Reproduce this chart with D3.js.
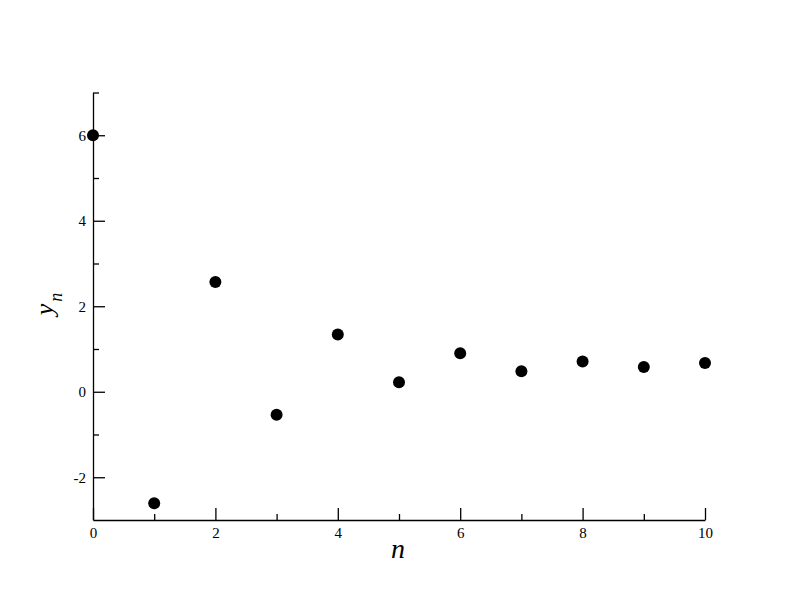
<!DOCTYPE html>
<html>
<head>
<meta charset="utf-8">
<script src="https://cdn.jsdelivr.net/npm/d3@7"></script>
<style>
  body { margin: 0; background: #fff; }
</style>
</head>
<body>
<div id="chart"></div>
<script>
// data
const nValues = [0, 1, 2, 3, 4, 5, 6, 7, 8, 9, 10];
const yValues = [6.0, -2.61, 2.57, -0.54, 1.34, 0.22, 0.90, 0.48, 0.71, 0.58, 0.67];
const xMajorTicks = [0, 2, 4, 6, 8, 10];
const xMinorTicks = [1, 3, 5, 7, 9];
const yMajorTicks = [-2, 0, 2, 4, 6];
const yMinorTicks = [-1, 1, 3, 5, 7];

const width = 792;
const height = 612;
const serif = "'Liberation Serif', 'Times New Roman', Times, serif";

const svg = d3.select("#chart")
  .append("svg")
  .attr("width", width)
  .attr("height", height);

const x = d3.scaleLinear().domain([0, 10]).range([93, 705]);
const y = d3.scaleLinear().domain([-3, 7]).range([520, 92.5]);

// etichette con trattino semplice, come nell'originale
const plain = d => String(d);

// x axis (ticks pointing inward)
svg.append("g")
  .attr("transform", `translate(0, ${y(-3)})`)
  .call(d3.axisBottom(x).tickValues(xMajorTicks).tickSize(-12).tickSizeOuter(0).tickPadding(7).tickFormat(plain));

svg.append("g")
  .attr("transform", `translate(0, ${y(-3)})`)
  .call(d3.axisBottom(x).tickValues(xMinorTicks).tickSize(-6).tickSizeOuter(0).tickFormat(""))
  .call(g => g.select(".domain").remove());

// y axis
svg.append("g")
  .attr("transform", `translate(${x(0)}, 0)`)
  .call(d3.axisLeft(y).tickValues(yMajorTicks).tickSize(-12).tickSizeOuter(0).tickPadding(7).tickFormat(plain));

svg.append("g")
  .attr("transform", `translate(${x(0)}, 0)`)
  .call(d3.axisLeft(y).tickValues(yMinorTicks).tickSize(-6).tickSizeOuter(0).tickFormat(""))
  .call(g => g.select(".domain").remove());

svg.selectAll(".domain, .tick line").attr("stroke", "#000").attr("stroke-width", 1.3);
svg.selectAll(".tick text")
  .attr("font-family", serif)
  .attr("font-size", "15px")
  .attr("fill", "#000");

// points
svg.append("g")
  .selectAll("circle")
  .data(nValues)
  .join("circle")
  .attr("cx", (d) => x(d))
  .attr("cy", (d, i) => y(yValues[i]))
  .attr("r", 6)
  .attr("fill", "#000");

// axis titles
svg.append("text")
  .attr("x", 398)
  .attr("y", 558)
  .attr("text-anchor", "middle")
  .attr("font-family", serif)
  .attr("font-size", "28px")
  .attr("font-style", "italic")
  .text("n");

const yTitle = svg.append("text")
  .attr("transform", "translate(53, 304) rotate(-90)")
  .attr("text-anchor", "middle")
  .attr("font-family", serif)
  .attr("font-size", "26px")
  .attr("font-style", "italic");
yTitle.append("tspan").text("y");
yTitle.append("tspan")
  .attr("font-size", "18px")
  .attr("dx", "2")
  .attr("dy", "9")
  .text("n");
</script>
</body>
</html>
